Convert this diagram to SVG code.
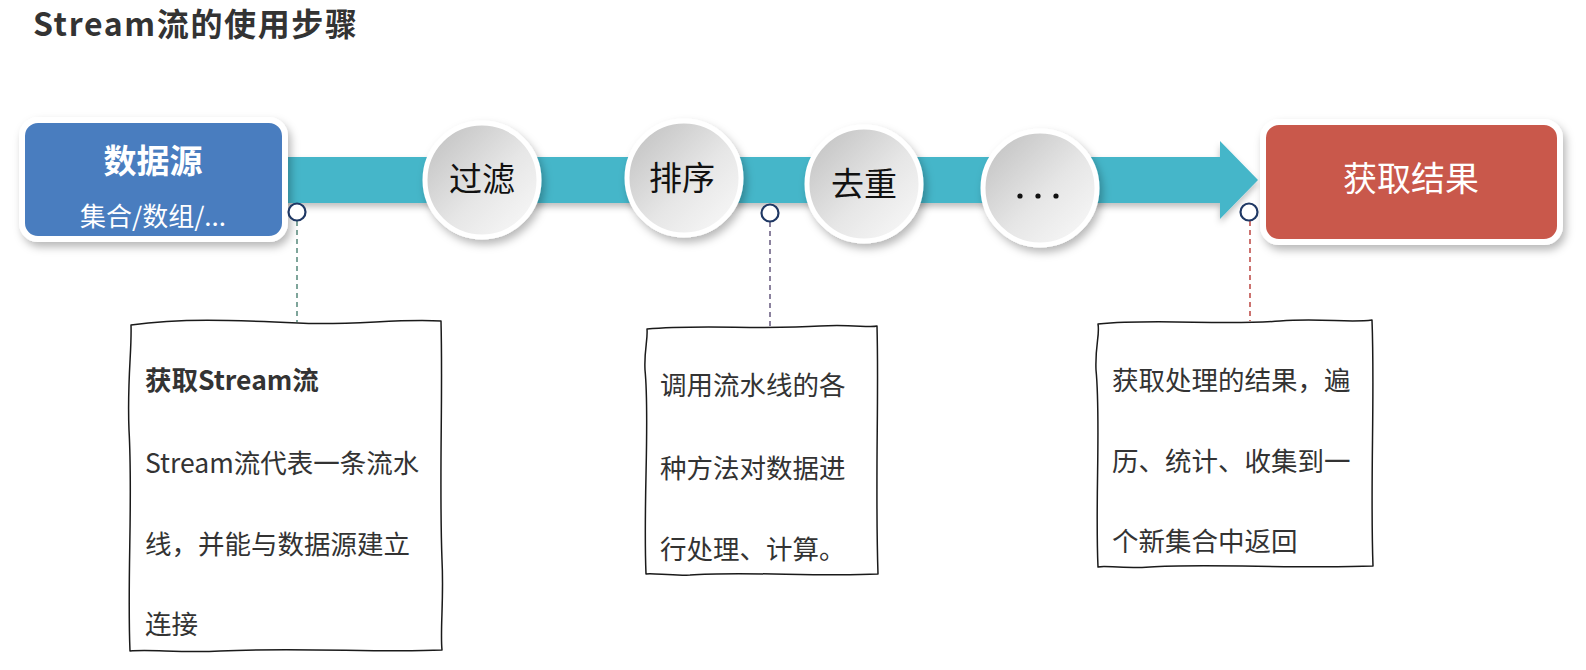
<svg xmlns="http://www.w3.org/2000/svg" width="1586" height="670" viewBox="0 0 1586 670">
<defs>
  <linearGradient id="ballGrad" x1="0" y1="0" x2="1" y2="1">
    <stop offset="0" stop-color="#bdbdbd"/>
    <stop offset="0.55" stop-color="#e6e6e6"/>
    <stop offset="1" stop-color="#fbfbfb"/>
  </linearGradient>
  <filter id="shadow" x="-20%" y="-20%" width="150%" height="160%">
    <feDropShadow dx="3" dy="5" stdDeviation="4" flood-color="#000" flood-opacity="0.28"/>
  </filter>
  <filter id="barShadow" x="-5%" y="-30%" width="110%" height="170%">
    <feDropShadow dx="0" dy="4" stdDeviation="3" flood-color="#000" flood-opacity="0.25"/>
  </filter>
</defs>
<style>
  .cjk { font-family: "Noto Sans CJK SC", "Noto Sans", sans-serif; }
  .ball { fill: url(#ballGrad); stroke: #ffffff; stroke-width: 5; filter: url(#shadow); }
  .ballText { font-family: "Noto Sans CJK SC", sans-serif; font-size: 33px; fill: #111; text-anchor: middle; }
  .box { stroke: #ffffff; stroke-width: 6; filter: url(#shadow); }
  .boxText { font-family: "Noto Sans CJK SC", sans-serif; fill: #ffffff; text-anchor: middle; }
  .note { fill: #ffffff; stroke: #1a1a1a; stroke-width: 1.5; stroke-linejoin: round; }
  .noteText { font-family: "Noto Sans CJK SC", sans-serif; font-size: 26.5px; fill: #333333; }
  .pin { fill: #ffffff; stroke: #1f3864; stroke-width: 2.2; }
  .lead { fill: none; stroke-width: 1.6; stroke-dasharray: 5 4; }
</style>
<rect width="1586" height="670" fill="#ffffff"/>

<g id="title">
  <text x="33" y="36" class="cjk" font-size="32" font-weight="bold" fill="#333333" textLength="324" lengthAdjust="spacing">Stream流的使用步骤</text>
</g>

<g id="connectors">
  <path id="flow-arrow" d="M285,157 L1220,157 L1220,141 L1258,180 L1220,219 L1220,203 L285,203 Z" fill="#45b6c9" filter="url(#barShadow)"/>
  <line class="lead" x1="297" y1="221" x2="297" y2="322" stroke="#5f8f82"/>
  <line class="lead" x1="770" y1="222" x2="770" y2="326" stroke="#6f6386"/>
  <line class="lead" x1="1250" y1="221" x2="1250" y2="321" stroke="#c0504d"/>
</g>

<g id="node-source">
  <rect class="box" x="22" y="120" width="263" height="119" rx="16" fill="#4a7dbf"/>
  <text class="boxText" x="153" y="173" font-size="33" font-weight="bold">数据源</text>
  <text class="boxText" x="153" y="226" font-size="26">集合/数组/...</text>
</g>

<g id="node-result">
  <rect class="box" x="1263" y="122" width="297" height="120" rx="16" fill="#c9584b"/>
  <text class="boxText" x="1411" y="191" font-size="34">获取结果</text>
</g>

<g id="node-filter">
  <circle class="ball" cx="482" cy="180" r="57"/>
  <text class="ballText" x="482" y="191">过滤</text>
</g>

<g id="node-sort">
  <circle class="ball" cx="684" cy="178" r="57"/>
  <text class="ballText" x="682" y="190">排序</text>
</g>

<g id="node-distinct">
  <circle class="ball" cx="864" cy="184" r="57"/>
  <text class="ballText" x="864" y="196">去重</text>
</g>

<g id="node-more">
  <circle class="ball" cx="1040" cy="188" r="57"/>
  <circle cx="1020" cy="196" r="2.6" fill="#111"/>
  <circle cx="1038" cy="196" r="2.6" fill="#111"/>
  <circle cx="1056" cy="196" r="2.6" fill="#111"/>
</g>

<g id="pins">
  <circle class="pin" cx="297" cy="212" r="8.5"/>
  <circle class="pin" cx="770" cy="213" r="8.5"/>
  <circle class="pin" cx="1249" cy="212" r="8.5"/>
</g>

<g id="note-source">
  <path class="note" d="M131,325 C180,318 230,320 298,323 C350,326 400,318 441,321 C443,400 439,480 442,560 C444,600 440,630 442,650 C380,653 300,647 220,651 C180,653 150,649 130,651 C127,580 133,500 129,430 C127,380 132,350 131,325 Z"/>
  <text class="noteText" x="145" y="390" font-weight="bold" fill="#111111">获取Stream流</text>
  <text class="noteText" x="145" y="473">Stream流代表一条流水</text>
  <text class="noteText" x="145" y="554">线，并能与数据源建立</text>
  <text class="noteText" x="145" y="634">连接</text>
</g>

<g id="note-ops">
  <path class="note" d="M647,329 C700,324 760,330 820,326 C850,324 870,328 877,326 C879,400 875,480 878,574 C820,577 740,571 690,575 C670,576 655,573 646,574 C643,500 650,420 645,370 C644,350 648,340 647,329 Z"/>
  <text class="noteText" x="660" y="395">调用流水线的各</text>
  <text class="noteText" x="660" y="478">种方法对数据进</text>
  <text class="noteText" x="660" y="559">行处理、计算。</text>
</g>

<g id="note-result">
  <path class="note" d="M1098,324 C1160,318 1220,326 1280,321 C1320,318 1350,323 1372,320 C1375,400 1370,480 1373,566 C1300,569 1200,563 1150,567 C1120,569 1105,565 1098,567 C1095,500 1101,420 1096,370 C1095,345 1100,335 1098,324 Z"/>
  <text class="noteText" x="1112" y="390">获取处理的结果，遍</text>
  <text class="noteText" x="1112" y="471">历、统计、收集到一</text>
  <text class="noteText" x="1112" y="551">个新集合中返回</text>
</g>
</svg>
